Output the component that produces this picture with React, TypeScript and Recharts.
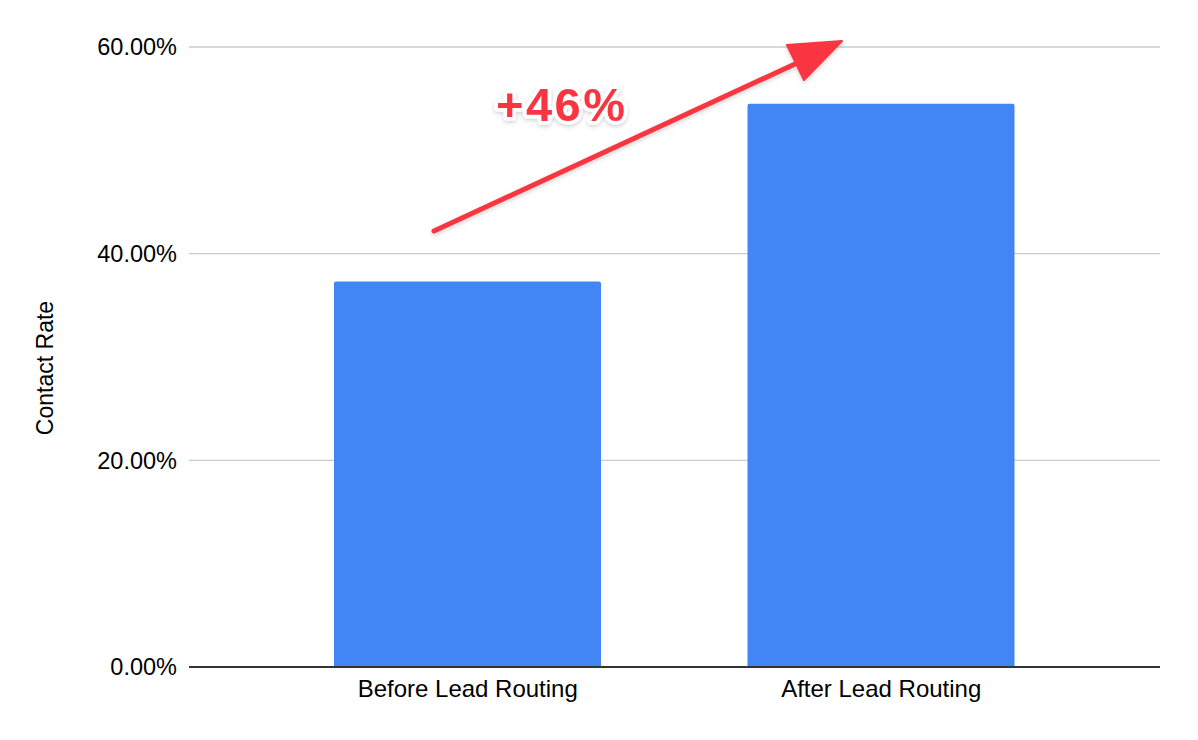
import React from 'react';
import { BarChart, Bar, XAxis, YAxis, CartesianGrid } from 'recharts';

const categories = ['Before Lead Routing', 'After Lead Routing'];
const contactRate = [37.3, 54.5];
const yTicks = [0, 20, 40, 60];

const chartData = categories.map((name, i) => ({ name, rate: contactRate[i] }));

const FONT = '"Liberation Sans", Arial, sans-serif';

// rotated y-axis title, sits a bit below the plot's middle like the original
const YTitle = (props: any) => {
    const vb = props.viewBox || {};
    const cx = 45;
    const cy = (vb.y || 0) + (vb.height || 0) / 2 + 11;
    return (
        <text
            x={cx}
            y={cy}
            transform={`rotate(-90, ${cx}, ${cy})`}
            textAnchor="middle"
            dominantBaseline="central"
            fill="#000"
            fontSize={23}
            fontFamily={FONT}
        >
            Contact Rate
        </text>
    );
};

const App: React.FC = () => {
    return (
        <div style={{ position: 'absolute', left: 0, top: 0, width: 1198, height: 740, background: '#fff' }}>
            <BarChart
                width={1198}
                height={740}
                data={chartData}
                margin={{ top: 47, right: 38, bottom: 0, left: 0 }}
            >
                <CartesianGrid vertical={false} stroke="#cccccc" strokeWidth={1.3} />
                <XAxis
                    dataKey="name"
                    height={73}
                    padding={{ left: 72, right: 72 }}
                    axisLine={{ stroke: '#333333', strokeWidth: 2 }}
                    tickLine={false}
                    tickSize={0}
                    tickMargin={13}
                    tick={{ fill: '#000', fontSize: 24, fontFamily: FONT }}
                />
                <YAxis
                    width={189}
                    domain={[0, 60]}
                    ticks={yTicks}
                    axisLine={false}
                    tickLine={false}
                    tickSize={0}
                    tickMargin={12}
                    tickFormatter={(v: number) => `${v.toFixed(2)}%`}
                    tick={{ fill: '#000', fontSize: 23.5, fontFamily: FONT }}
                    label={<YTitle />}
                />
                <Bar
                    dataKey="rate"
                    fill="#4285f4"
                    barSize={267}
                    radius={[2, 2, 0, 0]}
                    isAnimationActive={false}
                />
            </BarChart>
            {/* hand-drawn style annotation on top of the chart */}
            <svg
                width={1198}
                height={740}
                style={{ position: 'absolute', left: 0, top: 0, pointerEvents: 'none' }}
            >
                <defs>
                    <filter id="soft" x="-20%" y="-20%" width="140%" height="140%">
                        <feDropShadow dx="0" dy="2" stdDeviation="2" floodColor="#000" floodOpacity="0.18" />
                    </filter>
                </defs>
                <g filter="url(#soft)">
                    <line x1={434} y1={231} x2={808} y2={58} stroke="#f93542" strokeWidth={5} strokeLinecap="round" />
                    <polygon points="787,45 842,41 804,80" fill="#f93542" stroke="#f93542" strokeWidth={2} strokeLinejoin="round" />
                </g>
                <text
                    x={496}
                    y={121}
                    fontFamily={FONT}
                    fontWeight="bold"
                    fontSize={47}
                    letterSpacing={2.5}
                    fill="#f93542"
                    stroke="#ffffff"
                    strokeWidth={7}
                    strokeLinejoin="round"
                    paintOrder="stroke"
                    filter="url(#soft)"
                >
                    +46%
                </text>
            </svg>
        </div>
    );
};

export default App;
